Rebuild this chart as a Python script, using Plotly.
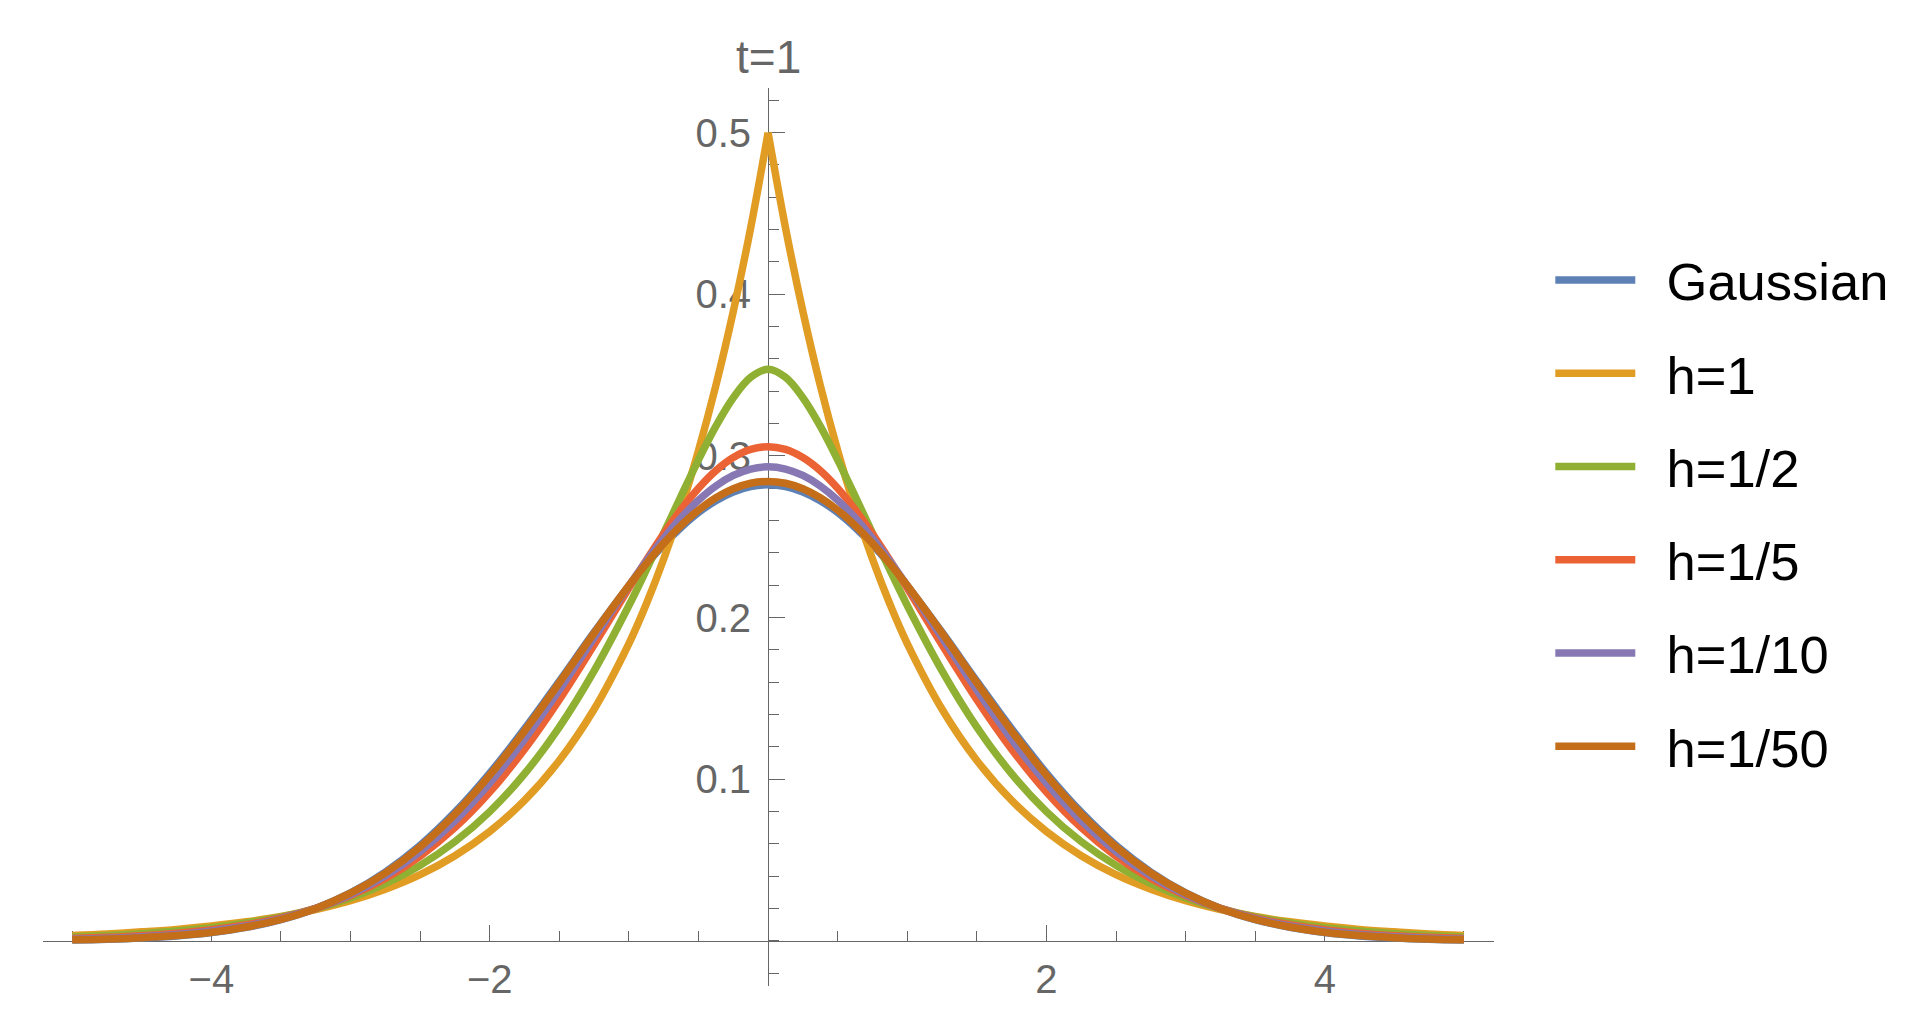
import plotly.graph_objects as go

# ---- data ----
x_vals = [-5.0, -4.75, -4.5, -4.25, -4.0, -3.75, -3.5, -3.25, -3.0, -2.75,
          -2.5, -2.25, -2.0, -1.75, -1.5, -1.25, -1.0, -0.875, -0.75, -0.625,
          -0.5, -0.375, -0.25, -0.125, 0.0, 0.125, 0.25, 0.375, 0.5, 0.625,
          0.75, 0.875, 1.0, 1.25, 1.5, 1.75, 2.0, 2.25, 2.5, 2.75,
          3.0, 3.25, 3.5, 3.75, 4.0, 4.25, 4.5, 4.75, 5.0]

gaussian = [0.0005, 0.0010, 0.0018, 0.0031, 0.0052, 0.0084, 0.0132, 0.0201, 0.0297, 0.0426,
            0.0591, 0.0796, 0.1038, 0.1312, 0.1607, 0.1909, 0.2197, 0.2329, 0.2451, 0.2558,
            0.2650, 0.2723, 0.2777, 0.2810, 0.2821, 0.2810, 0.2777, 0.2723, 0.2650, 0.2558,
            0.2451, 0.2329, 0.2197, 0.1909, 0.1607, 0.1312, 0.1038, 0.0796, 0.0591, 0.0426,
            0.0297, 0.0201, 0.0132, 0.0084, 0.0052, 0.0031, 0.0018, 0.0010, 0.0005]

h_1 = [0.0034, 0.0043, 0.0056, 0.0071, 0.0092, 0.0118, 0.0151, 0.0194, 0.0249, 0.0320,
       0.0410, 0.0527, 0.0677, 0.0869, 0.1116, 0.1433, 0.1839, 0.2084, 0.2362, 0.2676,
       0.3033, 0.3436, 0.3894, 0.4412, 0.5000, 0.4412, 0.3894, 0.3436, 0.3033, 0.2676,
       0.2362, 0.2084, 0.1839, 0.1433, 0.1116, 0.0869, 0.0677, 0.0527, 0.0410, 0.0320,
       0.0249, 0.0194, 0.0151, 0.0118, 0.0092, 0.0071, 0.0056, 0.0043, 0.0034]

h_1_2 = [0.0024, 0.0033, 0.0045, 0.0061, 0.0082, 0.0111, 0.0149, 0.0200, 0.0266, 0.0354,
         0.0467, 0.0614, 0.0800, 0.1034, 0.1323, 0.1671, 0.2075, 0.2295, 0.2522, 0.2752,
         0.2976, 0.3184, 0.3360, 0.3486, 0.3536, 0.3486, 0.3360, 0.3184, 0.2976, 0.2752,
         0.2522, 0.2295, 0.2075, 0.1671, 0.1323, 0.1034, 0.0800, 0.0614, 0.0467, 0.0354,
         0.0266, 0.0200, 0.0149, 0.0111, 0.0082, 0.0061, 0.0045, 0.0033, 0.0024]

h_1_5 = [0.0015, 0.0022, 0.0032, 0.0048, 0.0069, 0.0100, 0.0142, 0.0201, 0.0280, 0.0386,
         0.0524, 0.0701, 0.0921, 0.1186, 0.1493, 0.1832, 0.2183, 0.2355, 0.2518, 0.2668,
         0.2800, 0.2909, 0.2990, 0.3040, 0.3057, 0.3040, 0.2990, 0.2909, 0.2800, 0.2668,
         0.2518, 0.2355, 0.2183, 0.1832, 0.1493, 0.1186, 0.0921, 0.0701, 0.0524, 0.0386,
         0.0280, 0.0201, 0.0142, 0.0100, 0.0069, 0.0048, 0.0032, 0.0022, 0.0015]

h_1_10 = [0.0010, 0.0016, 0.0026, 0.0040, 0.0062, 0.0092, 0.0138, 0.0201, 0.0287, 0.0402,
          0.0553, 0.0743, 0.0976, 0.1248, 0.1553, 0.1876, 0.2197, 0.2349, 0.2490, 0.2617,
          0.2726, 0.2814, 0.2879, 0.2919, 0.2933, 0.2919, 0.2879, 0.2814, 0.2726, 0.2617,
          0.2490, 0.2349, 0.2197, 0.1876, 0.1553, 0.1248, 0.0976, 0.0743, 0.0553, 0.0402,
          0.0287, 0.0201, 0.0138, 0.0092, 0.0062, 0.0040, 0.0026, 0.0016, 0.0010]

h_1_50 = [0.0007, 0.0012, 0.0020, 0.0033, 0.0054, 0.0086, 0.0133, 0.0201, 0.0295, 0.0420,
          0.0582, 0.0784, 0.1025, 0.1299, 0.1597, 0.1904, 0.2198, 0.2334, 0.2459, 0.2570,
          0.2665, 0.2741, 0.2797, 0.2831, 0.2842, 0.2831, 0.2797, 0.2741, 0.2665, 0.2570,
          0.2459, 0.2334, 0.2198, 0.1904, 0.1597, 0.1299, 0.1025, 0.0784, 0.0582, 0.0420,
          0.0295, 0.0201, 0.0133, 0.0086, 0.0054, 0.0033, 0.0020, 0.0012, 0.0007]

series_names = ["Gaussian", "h=1", "h=1/2", "h=1/5", "h=1/10", "h=1/50"]
series_values = [gaussian, h_1, h_1_2, h_1_5, h_1_10, h_1_50]
series_colors = ["#5E81B5", "#E19C24", "#8FB032", "#EB6235", "#8778B3", "#C56E1A"]

x_tickvals = [-4, -2, 2, 4]
y_tickvals = [0.1, 0.2, 0.3, 0.4, 0.5]
title_text = "t=1"

# ---- style ----
AX = "#666666"
FONT = "Liberation Sans, Arial, sans-serif"
LW = 7.5
XR = [-5.21, 5.216]
YR = [-0.0279, 0.5276]
GAP = "\u2002"  # visual gap between legend swatch and label

fig = go.Figure()
mid = x_vals.index(0.0)
for name, vals, col in zip(series_names, series_values, series_colors):
    label = GAP + name
    if name == "h=1":
        # cusp at the peak: draw the two halves separately so the tip stays sharp
        fig.add_trace(go.Scatter(x=x_vals[:mid + 1], y=vals[:mid + 1], mode="lines",
                                 name=label, legendgroup=name,
                                 line=dict(color=col, width=LW, shape="spline")))
        fig.add_trace(go.Scatter(x=x_vals[mid:], y=vals[mid:], mode="lines",
                                 name=label, legendgroup=name, showlegend=False,
                                 line=dict(color=col, width=LW, shape="spline")))
    else:
        fig.add_trace(go.Scatter(x=x_vals, y=vals, mode="lines", name=label,
                                 legendgroup=name,
                                 line=dict(color=col, width=LW, shape="spline")))

x_zero_pos = (0 - XR[0]) / (XR[1] - XR[0])
y_zero_pos = (0 - YR[0]) / (YR[1] - YR[0])

fig.update_layout(
    width=1902, height=996,
    margin=dict(l=35, r=416, t=80, b=18, autoexpand=False),
    paper_bgcolor="white", plot_bgcolor="white",
    font=dict(family=FONT, color=AX),
    xaxis=dict(range=XR, anchor="free", position=y_zero_pos, automargin=False,
               showline=True, linecolor=AX, linewidth=1,
               showgrid=False, zeroline=False,
               ticks="inside", ticklen=16, tickwidth=1, tickcolor=AX,
               tickmode="array", tickvals=x_tickvals,
               tickfont=dict(family=FONT, size=40, color=AX),
               ticklabelstandoff=3,
               minor=dict(ticks="inside", ticklen=10, tickwidth=1, tickcolor=AX,
                          tick0=0, dtick=0.5, showgrid=False),
               layer="below traces"),
    yaxis=dict(range=YR, anchor="free", position=x_zero_pos, automargin=False,
               showline=True, linecolor=AX, linewidth=1,
               showgrid=False, zeroline=False,
               ticks="inside", ticklen=16, tickwidth=1, tickcolor=AX,
               tickmode="array", tickvals=y_tickvals,
               tickfont=dict(family=FONT, size=40, color=AX),
               ticklabelstandoff=9,
               minor=dict(ticks="inside", ticklen=10, tickwidth=1, tickcolor=AX,
                          tick0=0, dtick=0.02, showgrid=False),
               layer="below traces"),
    legend=dict(x=1.0388, y=0.8315, xanchor="left", yanchor="top",
                font=dict(family=FONT, size=52.5, color="black"),
                tracegroupgap=22, itemwidth=80, bgcolor="rgba(0,0,0,0)"),
    annotations=[dict(text=title_text, x=0, xref="x", y=1.035, yref="paper",
                      xanchor="center", yanchor="middle", showarrow=False,
                      font=dict(family=FONT, size=46, color=AX))],
)

fig.write_html("out.html", config={"displayModeBar": False})
